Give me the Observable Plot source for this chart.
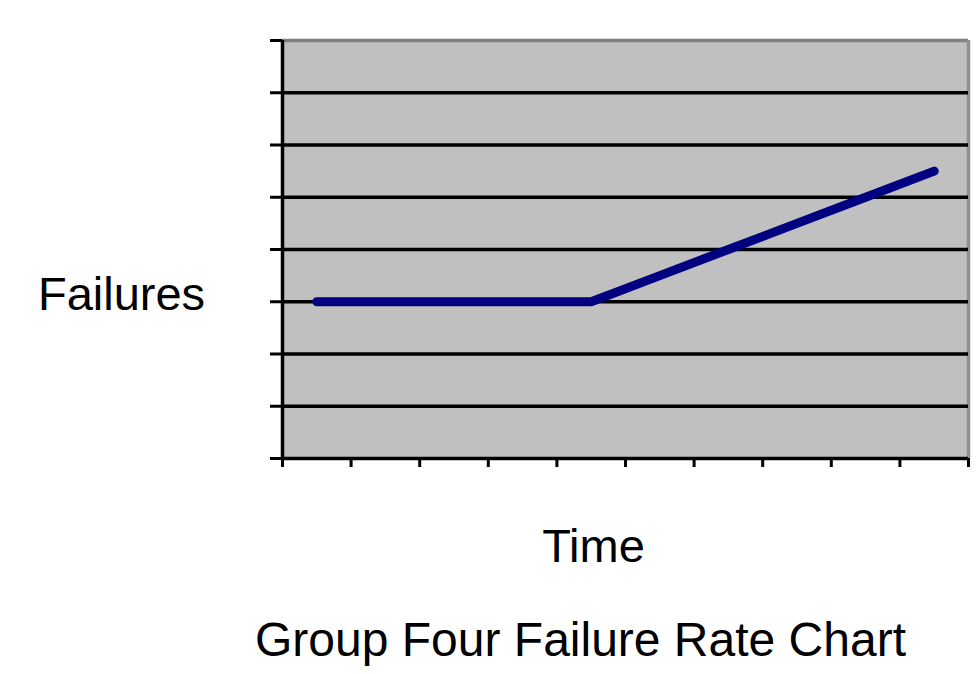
<!DOCTYPE html>
<html><head><meta charset="utf-8">
<script src="https://cdn.jsdelivr.net/npm/d3@7"></script>
<script src="https://cdn.jsdelivr.net/npm/@observablehq/plot@0.6"></script>
<style>html,body{margin:0;padding:0;background:#fff} svg{display:block}</style>
</head><body><div id="chart"></div>
<script>
const periods = [1, 2, 3, 4, 5, 6, 7, 8, 9, 10];
const failures = [3, 3, 3, 3, 3, 3.5, 4, 4.5, 5, 5.5];
const yTicks = [0, 1, 2, 3, 4, 5, 6, 7, 8];
const xTicks = [0.5, 1.5, 2.5, 3.5, 4.5, 5.5, 6.5, 7.5, 8.5, 9.5, 10.5];
const yLabel = "Failures";
const xLabel = "Time";
const title = "Group Four Failure Rate Chart";

const data = periods.map((p, i) => ({period: p, failures: failures[i]}));
const font = "'Liberation Sans', Arial, sans-serif";

const chart = Plot.plot({
  width: 980, height: 674,
  marginLeft: 282, marginRight: 12, marginTop: 40, marginBottom: 216,
  style: {fontFamily: font, background: "white", color: "black"},
  x: {domain: [0.5, 10.5], axis: null},
  y: {domain: [0, 8], axis: null},
  marks: [
    Plot.frame({fill: "#c0c0c0", stroke: null}),
    Plot.ruleY([8], {stroke: "#808080", strokeWidth: 3.5}),
    Plot.ruleX([10.5], {stroke: "#909090", strokeWidth: 3.5}),
    Plot.ruleY(yTicks.slice(1, -1), {stroke: "black", strokeWidth: 3.5}),
    Plot.axisY(yTicks, {tickSize: 12, tickFormat: () => "", strokeWidth: 3, label: null, stroke: "black"}),
    Plot.axisX(xTicks, {tickSize: 9, tickFormat: () => "", strokeWidth: 3, label: null, stroke: "black"}),
    Plot.ruleX([0.5], {stroke: "black", strokeWidth: 3.5}),
    Plot.ruleY([0], {stroke: "black", strokeWidth: 3.5}),
    Plot.lineY(data, {x: "period", y: "failures", stroke: "#000080", strokeWidth: 9, strokeLinecap: "round", strokeLinejoin: "round"}),
    Plot.text([yLabel], {frameAnchor: "left", dx: -161, dy: 45, fontSize: 47, textAnchor: "middle", lineAnchor: "middle", fill: "black"}),
    Plot.text([xLabel], {frameAnchor: "bottom", dx: -32, dy: 88, fontSize: 47, textAnchor: "middle", lineAnchor: "middle", fill: "black"}),
    Plot.text([title], {frameAnchor: "bottom", dx: -45, dy: 182, fontSize: 48, textAnchor: "middle", lineAnchor: "middle", fill: "black"})
  ]
});
document.getElementById("chart").append(chart);
</script>
</body></html>
